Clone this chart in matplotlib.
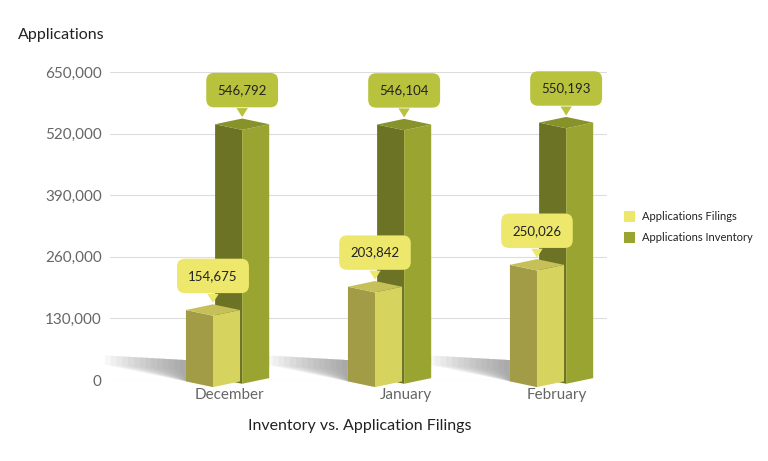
import matplotlib
matplotlib.use("Agg")
import matplotlib.pyplot as plt
from matplotlib.patches import Polygon, Rectangle

categories = ["December", "January", "February"]
filings = [154675, 203842, 250026]
inventory = [546792, 546104, 550193]
yticks = [0, 130000, 260000, 390000, 520000, 650000]

plt.rcParams['font.family'] = ['Lato', 'DejaVu Sans']
fig = plt.figure(figsize=(7.68, 4.61), dpi=100)
ax = fig.add_axes([110/768, 1-380/461, 497/768, 308/461])
ax.set_xlim(-0.728, 2.34)
ax.set_ylim(0, 650000)
for s in ax.spines.values():
    s.set_visible(False)
ax.set_yticks(yticks)
ax.set_yticklabels([f"{v:,}" for v in yticks], color="#666666", fontsize=11)
ax.tick_params(length=0, pad=6)
ax.set_xticks([0.01, 1.1, 2.03])
ax.set_xticklabels(categories, color="#666666", fontsize=11)
ax.grid(axis='y', color='#dddddd', lw=0.8)
ax.set_axisbelow(True)

fw = 0.167   # face width
d = 12000    # vertical offset for slope

def box(xc, base, top, side_c, front_c, top_c, z):
    ax.add_patch(Polygon([(xc-fw, base+d), (xc, base), (xc, top), (xc-fw, top+d)],
                         closed=True, fc=side_c, ec='none', clip_on=False, zorder=z))
    ax.add_patch(Polygon([(xc, base), (xc+fw, base+d), (xc+fw, top+d), (xc, top)],
                         closed=True, fc=front_c, ec='none', clip_on=False, zorder=z))
    ax.add_patch(Polygon([(xc-fw, top+d), (xc, top), (xc+fw, top+d), (xc, top+2*d)],
                         closed=True, fc=top_c, ec='none', clip_on=False, zorder=z))

def shadow(xc, base):
    for k in range(14):
        w = 0.5 * (k+1)/14
        ax.add_patch(Polygon([(xc-fw, base+d), (xc-fw-w, base+d+25000+w*20000),
                              (xc-fw-w, base+d+45000+w*20000), (xc-fw, base+d+45000)],
                             closed=True, fc='#444444', alpha=0.04, ec='none', zorder=2, clip_on=False))

def callout(xc, top, val, fc, z):
    ybot = top + 2*d + 20000
    ax.add_patch(Polygon([(xc-0.035, ybot+2000), (xc+0.035, ybot+2000), (xc, top+2*d+3000)],
                         closed=True, fc=fc, ec='none', zorder=z, clip_on=False))
    ax.text(xc, ybot + 40000, f"{val:,}", ha='center', va='center', fontsize=9.5, color='#222222',
            zorder=z+0.5, bbox=dict(boxstyle='round,pad=0.85,rounding_size=0.6', fc=fc, ec='none'))

for i, (f, v) in enumerate(zip(filings, inventory)):
    base_x = [213, 375, 537][i]
    xf = -0.728 + (base_x - 110) / 162.0
    xi = xf + 0.18
    box(xi, -8000, v - 2*d + 5000, '#6c7324', '#9aa531', '#88922b', 3)
    callout(xi, v - 2*d + 5000, v, '#b8c23c', 4)
    shadow(xf, -15000)
    box(xf, -15000, f - 2*d + 5000, '#a39c47', '#d6d35e', '#c5c057', 6)
    callout(xf, f - 2*d + 5000, f, '#ede76b', 7)

fig.text(18/768, 1-35/461, "Applications", fontsize=11.5, color='#222222', va='center')
fig.text(360/768, 1-426/461, "Inventory vs. Application Filings", fontsize=11.5, color='#222222',
         ha='center', va='center')
fig.patches.append(Rectangle((624/768, 1-222/461), 11/768, 11/461, fc='#ede76b', transform=fig.transFigure))
fig.patches.append(Rectangle((624/768, 1-243/461), 11/768, 11/461, fc='#9aa531', transform=fig.transFigure))
fig.text(642/768, 1-216/461, "Applications Filings", fontsize=8, color='#222222', va='center')
fig.text(642/768, 1-237/461, "Applications Inventory", fontsize=8, color='#222222', va='center')

fig.savefig("out.png", dpi=100)
